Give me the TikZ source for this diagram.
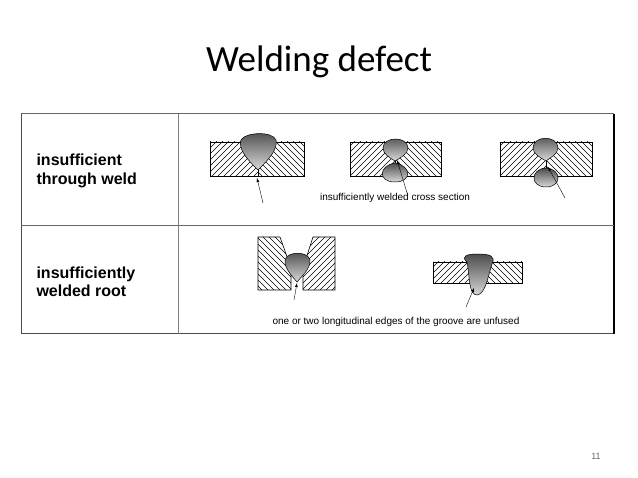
\documentclass[tikz,border=0pt]{standalone}
\usepackage{fontspec}
\setmainfont{Liberation Sans}
\newfontfamily\titlefont{Carlito}
\begin{document}
\begin{tikzpicture}[x=1pt,y=-1pt,
  bead/.style={draw=black,line width=0.5pt,top color=black!70,bottom color=black!15},
  plate/.style={draw=black,line width=0.6pt},
  lbl/.style={font=\bfseries\fontsize{16}{18.5}\selectfont,align=left,anchor=west},
  captext/.style={font=\fontsize{10}{12}\selectfont},
  arr/.style={line width=0.4pt,-latex}]
\useasboundingbox (0,0) rectangle (638,478);
\newcommand\hatchpoly[2]{% #1 path, #2 direction (1 = /, -1 = \)
  \begin{scope}\clip #1;
  \foreach \i in {-120,-114,...,840}{\draw[line width=0.4pt] (\i,340) -- ++(#2*200,-200);}
  \end{scope}\draw[plate] #1;}
\node[font=\titlefont\fontsize{37}{44}\selectfont] (title) at (319,62) {Welding defect};
% table
\draw[black!60,line width=1pt] (21,114) -- (614,114);
\draw[black!70,line width=1pt] (21,114) -- (21,334) -- (614,334);
\draw[black,line width=2pt] (614,114) -- (614,334);
\draw[black!60,line width=1pt] (21,226) -- (614,226);
\draw[black!50,line width=0.8pt] (178,114) -- (178,334);
\node[lbl] (l1) at (33,171) {insufficient\\through weld};
\node[lbl] (l2) at (33,282) {insufficiently\\welded root};
% row 1 plate 1
\hatchpoly{(210,142) rectangle (258,176)}{1}
\hatchpoly{(258,142) rectangle (304,176)}{-1}
\draw[bead] (258,170) .. controls (248,160) and (238,150) .. (241,140) .. controls (245,132) and (273,131) .. (276,140) .. controls (278,150) and (268,160) .. (258,170) -- cycle;
\coordinate (a1) at (263,203);
\draw[arr] (a1) -- (257,178);
% plate 2
\hatchpoly{(350,142) rectangle (395,176)}{1}
\hatchpoly{(395,142) rectangle (441,176)}{-1}
\draw[bead] (383,148) .. controls (383,136) and (408,136) .. (408,148) .. controls (408,154) and (400,158) .. (395,161) .. controls (390,158) and (383,154) .. (383,148) -- cycle;
\draw[bead] (395,163) .. controls (378,166) and (378,182) .. (395,182) .. controls (412,182) and (412,166) .. (395,163) -- cycle;
\coordinate (a2) at (408,196);
\draw[arr] (a2) -- (397,160);
% plate 3
\hatchpoly{(500,142) rectangle (546,176)}{1}
\hatchpoly{(546,142) rectangle (592,176)}{-1}
\draw[bead] (533,148) .. controls (533,135) and (558,135) .. (558,148) .. controls (558,154) and (550,158) .. (546,161) .. controls (541,158) and (533,154) .. (533,148) -- cycle;
\draw[bead] (546,168) .. controls (530,169) and (530,187) .. (546,187) .. controls (562,187) and (562,169) .. (546,168) -- cycle;
\coordinate (a3) at (565,198);
\draw[arr] (a3) -- (548,167);
\node[captext] (c1) at (395,198) {insufficiently welded cross section};
% row 2 V groove
\hatchpoly{(258,237) -- (280,237) -- (291,268) -- (291,290) -- (258,290) -- cycle}{-1}
\hatchpoly{(313,237) -- (335,237) -- (335,290) -- (303,290) -- (303,268) -- cycle}{1}
\draw[bead] (297,282) .. controls (292,276) and (284,268) .. (285,260) .. controls (287,251) and (308,251) .. (310,260) .. controls (311,268) and (302,276) .. (297,282) -- cycle;
\coordinate (a4) at (294,300);
\draw[arr] (a4) -- (297,283);
% row 2 plate
\hatchpoly{(433,262) rectangle (477,283)}{1}
\hatchpoly{(477,262) rectangle (522,283)}{-1}
\draw[bead] (467,262) .. controls (460,256) and (468,254) .. (477,254) .. controls (490,254) and (496,256) .. (492,264) .. controls (488,276) and (486,292) .. (478,295) .. controls (468,296) and (470,276) .. (467,262) -- cycle;
\coordinate (a5) at (466,307);
\draw[arr] (a5) -- (474,288);
\node[captext] (c2) at (396,322) {one or two longitudinal edges of the groove are unfused};
\node[font=\fontsize{9}{11}\selectfont,text=black!60] (pg) at (596,456) {11};
\end{tikzpicture}
\end{document}
